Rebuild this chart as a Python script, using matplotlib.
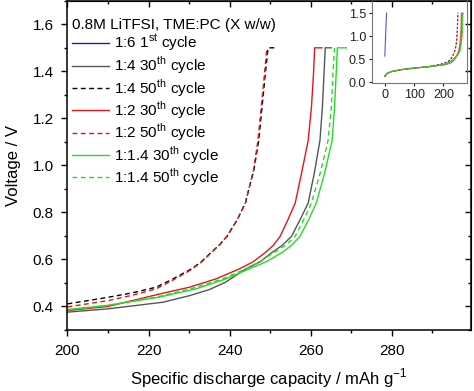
import numpy as np
import matplotlib
matplotlib.use("Agg")
import matplotlib.pyplot as plt
from matplotlib.ticker import MultipleLocator

plt.rcParams['font.family'] = ['Liberation Sans', 'DejaVu Sans']
plt.rcParams['mathtext.fontset'] = 'custom'
plt.rcParams['mathtext.rm'] = 'Liberation Sans'

# discharge curves: capacity (mAh/g) and voltage (V)
# early part (0-150 mAh/g), shared by all the long curves
early_cap = [0, 5, 20, 50, 100, 150]
early_v = [0.13, 0.18, 0.23, 0.27, 0.31, 0.34]

cap_16_1 = [0, 2, 4, 6]
v_16_1 = [0.57, 0.9, 1.2, 1.5]

cap_14_30 = [200, 210, 223.5, 230.1, 235.0, 239.0, 243.9, 247.5, 250.4, 253.0, 255.3, 257.4, 259.4,
             260.9, 262.3, 262.9, 263.3, 263.6, 265.1]
v_14_30 = [0.376, 0.39, 0.418, 0.446, 0.472, 0.503, 0.559, 0.59, 0.629, 0.66, 0.699, 0.769, 0.84,
           0.966, 1.106, 1.246, 1.387, 1.5, 1.5]

cap_14_50 = [200, 210, 216, 221.9, 226.0, 230.5, 233.0, 235.4, 237.5, 239.4, 241.9, 243.9, 244.7,
             246.0, 247.2, 248.0, 248.8, 249.5, 251.2]
v_14_50 = [0.411, 0.439, 0.458, 0.482, 0.517, 0.559, 0.59, 0.629, 0.662, 0.699, 0.769, 0.84, 0.896,
           0.98, 1.106, 1.246, 1.387, 1.5, 1.5]

cap_12_30 = [200, 210, 222.7, 230.1, 236.6, 242.3, 245.8, 248.8, 250.8, 252.5, 254.4, 256.2, 257.8,
             259.4, 260.2, 260.7, 261.0, 262.8]
v_12_30 = [0.383, 0.40, 0.453, 0.482, 0.517, 0.559, 0.59, 0.629, 0.66, 0.699, 0.769, 0.84, 0.97,
           1.106, 1.246, 1.387, 1.5, 1.5]

cap_12_50 = [200, 210, 216, 221.9, 226.0, 230.5, 233.0, 235.4, 237.5, 239.4, 241.9, 243.9, 244.7,
             245.9, 247.0, 247.8, 248.6, 249.2]
v_12_50 = [0.398, 0.425, 0.448, 0.475, 0.512, 0.556, 0.588, 0.627, 0.662, 0.699, 0.77, 0.84, 0.896,
           0.98, 1.106, 1.246, 1.387, 1.5]

cap_114_30 = [200, 210, 222.7, 231.7, 239.0, 244.7, 249.0, 252.9, 255.3, 257.4, 259.5, 261.4, 263.5,
              265.3, 265.9, 266.3, 266.6, 268.8]
v_114_30 = [0.387, 0.405, 0.44, 0.475, 0.517, 0.559, 0.59, 0.629, 0.66, 0.699, 0.769, 0.84, 0.97,
            1.106, 1.246, 1.387, 1.5, 1.5]

cap_114_50 = [200, 210, 222.0, 231.0, 238.2, 243.9, 247.2, 250.9, 253.8, 256.2, 258.3, 260.2, 262.4,
              264.3, 265.1, 265.5, 265.9]
v_114_50 = [0.385, 0.405, 0.44, 0.478, 0.517, 0.559, 0.587, 0.629, 0.66, 0.699, 0.769, 0.84, 0.97,
            1.106, 1.246, 1.387, 1.5]

series = [
    (cap_16_1, v_16_1, '#1c1cd0', '-', r'1:6 1$^{\mathrm{st}}$ cycle', False),
    (cap_14_30, v_14_30, '#555555', '-', r'1:4 30$^{\mathrm{th}}$ cycle', True),
    (cap_14_50, v_14_50, 'black', '--', r'1:4 50$^{\mathrm{th}}$ cycle', True),
    (cap_12_30, v_12_30, '#e8141c', '-', r'1:2 30$^{\mathrm{th}}$ cycle', True),
    (cap_12_50, v_12_50, '#e8141c', '--', r'1:2 50$^{\mathrm{th}}$ cycle', True),
    (cap_114_30, v_114_30, '#22dd22', '-', r'1:1.4 30$^{\mathrm{th}}$ cycle', True),
    (cap_114_50, v_114_50, '#22dd22', '--', r'1:1.4 50$^{\mathrm{th}}$ cycle', True),
]

fig = plt.figure(figsize=(4.74, 3.91), dpi=100)
ax = fig.add_axes([0.1424, 0.156, 0.8506, 0.842])

for cap, v, col, ls, lab, has_early in series:
    line, = ax.plot(cap, v, color=col, ls=ls, lw=1.0, label=lab)
    if ls == '--':
        line.set_dashes((3.5, 2.5))

ax.set_xlim(200, 299.5)
ax.set_ylim(0.3, 1.7)
ax.xaxis.set_major_locator(MultipleLocator(20))
ax.xaxis.set_minor_locator(MultipleLocator(10))
ax.yaxis.set_major_locator(MultipleLocator(0.2))
ax.yaxis.set_minor_locator(MultipleLocator(0.1))
ax.tick_params(which='major', direction='out', length=4, width=1, labelsize=11, pad=6)
ax.tick_params(which='minor', direction='out', length=2.5, width=1)
for s in ax.spines.values():
    s.set_linewidth(1.1)

# mirrored ticks pointing inward on top and right
top = ax.secondary_xaxis('top')
top.set_xticks(np.arange(200, 300, 20))
top.set_xticks(np.arange(210, 300, 20), minor=True)
top.tick_params(which='both', direction='in', labeltop=False, width=1)
top.tick_params(which='major', length=4)
top.tick_params(which='minor', length=2.5)
right = ax.secondary_yaxis('right')
right.set_yticks(np.arange(0.4, 1.7, 0.2))
right.set_yticks(np.arange(0.3, 1.7, 0.2), minor=True)
right.tick_params(which='both', direction='in', labelright=False, width=1)
right.tick_params(which='major', length=4)
right.tick_params(which='minor', length=2.5)

ax.set_xlabel('Specific discharge capacity / mAh g$^{\\mathrm{-1}}$', fontsize=12, labelpad=6)
ax.set_ylabel('Voltage / V', fontsize=12, labelpad=8)

leg = ax.legend(loc='upper left', bbox_to_anchor=(0.0, 0.962), frameon=False, fontsize=11,
                title='0.8M LiTFSI, TME:PC (X w/w)', title_fontsize=11,
                alignment='left', handlelength=2.4, handletextpad=0.35,
                labelspacing=0.05, borderaxespad=0.2, borderpad=0.1)

# inset with the whole discharge
ins = fig.add_axes([0.784, 0.787, 0.201, 0.21])
ins.patch.set_alpha(0)
for cap, v, col, ls, lab, has_early in series:
    if has_early:
        c = early_cap + cap
        vv = early_v + v
    else:
        c, vv = cap, v
    line, = ins.plot(c, vv, color=col, ls=ls, lw=0.8, alpha=0.75)
    if ls == '--':
        line.set_dashes((2, 1.5))
ins.set_xlim(-45, 280)
ins.set_ylim(-0.02, 1.76)
ins.set_xticks([0, 100, 200])
ins.set_yticks([0.0, 0.5, 1.0, 1.5])
ins.tick_params(direction='out', length=2.5, width=0.8, labelsize=9, pad=1.5, colors='#222222')
for s in ins.spines.values():
    s.set_color('#777777')
    s.set_linewidth(0.8)
ins.spines['top'].set_visible(False)

fig.savefig('out.png', dpi=100)
